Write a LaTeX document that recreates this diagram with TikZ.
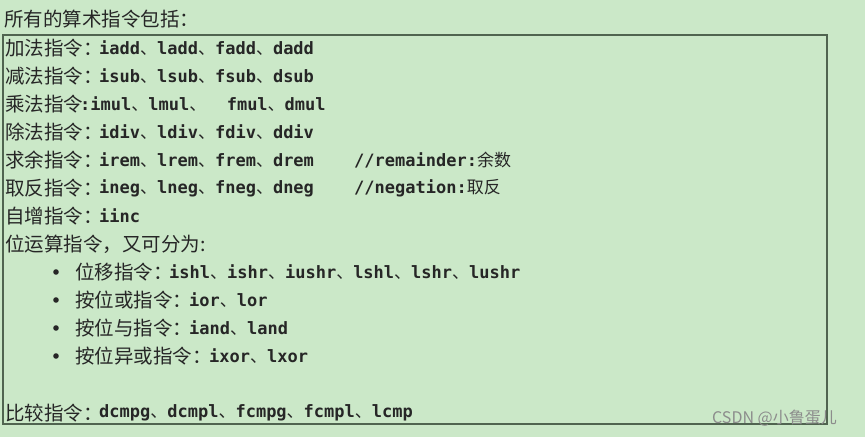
\documentclass[tikz,border=0pt]{standalone}
\usepackage{fontspec}
\newfontfamily\cjk{Noto Sans CJK SC}
\newfontfamily\mono{DejaVu Sans Mono}
\newcommand{\dn}{{\cjk\mdseries 、}}
\begin{document}
\begin{tikzpicture}[x=1pt,y=-1pt,
  t/.style={anchor=west,inner sep=0pt,font=\cjk\fontsize{19.5}{20}\selectfont,text=black!85},
  m/.style={anchor=west,inner sep=0pt,font=\mono\bfseries\fontsize{17}{20}\selectfont,text=black!85}]
\fill[fill={rgb,255:red,203;green,232;blue,200}] (0,0) rectangle (865,437);
\useasboundingbox (0,0) rectangle (865,437);
\draw[draw={rgb,255:red,80;green,100;blue,80},line width=1.2pt] (3,35) rectangle (827,424);
\node[t] (h) at (4,19) {所有的算术指令包括：};
\node[t] (a1) at (5,48) {加法指令：};
\node[m] at (99,48) {iadd\dn ladd\dn fadd\dn dadd};
\node[t] (a2) at (5,76) {减法指令：};
\node[m] at (99,76) {isub\dn lsub\dn fsub\dn dsub};
\node[t] (a3) at (5,104) {乘法指令};
\node[m] at (80,104) {:imul\dn lmul\dn\ \ fmul\dn dmul};
\node[t] (a4) at (5,132) {除法指令：};
\node[m] at (99,132) {idiv\dn ldiv\dn fdiv\dn ddiv};
\node[t] (a5) at (5,160) {求余指令：};
\node[m] at (99,160) {irem\dn lrem\dn frem\dn drem};
\node[m] at (354,160) {//remainder:{\cjk\mdseries 余数}};
\node[t] (a6) at (5,188) {取反指令：};
\node[m] at (99,188) {ineg\dn lneg\dn fneg\dn dneg};
\node[m] at (354,188) {//negation:{\cjk\mdseries 取反}};
\node[t] (a7) at (5,216) {自增指令：};
\node[m] at (99,216) {iinc};
\node[t] (a8) at (5,244) {位运算指令，又可分为:};
\foreach \y in {272,300,328,356} \fill[black!85] (56,\y) circle (2.8);
\node[t] at (75,272) {位移指令：};
\node[m] at (169,272) {ishl\dn ishr\dn iushr\dn lshl\dn lshr\dn lushr};
\node[t] at (75,300) {按位或指令：};
\node[m] at (189,300) {ior\dn lor};
\node[t] at (75,328) {按位与指令：};
\node[m] at (189,328) {iand\dn land};
\node[t] at (75,356) {按位异或指令：};
\node[m] at (209,356) {ixor\dn lxor};
\node[t] (a9) at (5,413) {比较指令：};
\node[m] at (99,413) {dcmpg\dn dcmpl\dn fcmpg\dn fcmpl\dn lcmp};
\node[anchor=west,inner sep=0pt,font=\cjk\fontsize{16}{16}\selectfont,text=black!45] (wm) at (712,418) {CSDN @小鲁蛋儿};
\end{tikzpicture}
\end{document}
